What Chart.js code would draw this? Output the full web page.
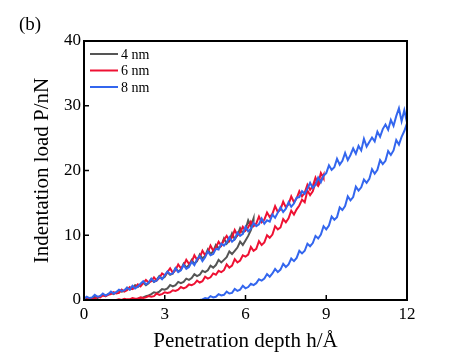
<!DOCTYPE html>
<html>
<head>
<meta charset="utf-8">
<script src="https://cdn.jsdelivr.net/npm/chart.js@4.4.1/dist/chart.umd.min.js"></script>
<style>
    html, body { margin:0; padding:0; background:#fff; }
    #wrap { width:474px; height:363px; position:relative; }
</style>
</head>
<body>
<div id="wrap"><canvas id="loadChart"></canvas></div>
<script>

// depth step between samples (Å)
const depthStep = 0.1

const seriesNames = ['4 nm', '6 nm', '8 nm']
const seriesColors = ['#555555', '#ee1133', '#3366ee']

// loading branches, starting at h = 0
const load4 = [
    0.0, 0.2, 0.1, 0.3, 0.5, 0.3, 0.6, 0.8, 0.6, 0.9,
    1.1, 0.9, 1.2, 1.5, 1.3, 1.4, 1.9, 1.6, 1.8, 2.3,
    2.0, 2.4, 2.7, 2.3, 2.6, 3.2, 2.8, 3.1, 3.7, 3.3,
    3.6, 4.3, 3.9, 4.1, 4.9, 4.4, 4.7, 5.6, 5.0, 5.4,
    6.2, 5.6, 6.0, 7.0, 6.4, 6.8, 7.8, 7.1, 7.5, 8.5,
    8.0, 8.4, 9.5, 8.7, 9.2, 10.3, 9.4, 10.0, 11.1, 10.3,
    10.9, 12.3, 11.4, 12.6
]
const load6 = [
    0.0, 0.1, 0.3, 0.2, 0.2, 0.5, 0.4, 0.7, 0.6, 0.8,
    0.9, 1.2, 1.0, 1.1, 1.6, 1.3, 1.5, 2.0, 1.7, 1.9,
    2.4, 2.1, 2.6, 3.1, 2.7, 2.9, 3.5, 3.0, 3.4, 4.1,
    3.8, 4.3, 4.9, 4.2, 4.6, 5.5, 4.9, 5.3, 6.2, 5.6,
    5.9, 6.9, 6.2, 6.6, 7.6, 6.9, 7.4, 8.4, 7.6, 8.1,
    9.0, 8.4, 9.3, 9.9, 9.1, 9.7, 10.8, 10.0, 10.4, 11.3,
    10.7, 11.2, 12.1, 11.4, 11.8, 12.9, 12.0, 12.4, 13.5, 12.8,
    13.3, 14.5, 13.6, 14.0, 15.2, 14.3, 14.8, 16.0, 15.1, 15.7,
    16.8, 16.0, 16.6, 17.8, 17.0, 17.6, 18.9, 17.9, 19.6, 18.8
]
const load8 = [
    0.2, 0.5, 0.3, 0.4, 0.8, 0.5, 0.6, 1.0, 0.7, 0.9,
    1.3, 1.0, 1.2, 1.6, 1.4, 1.5, 1.9, 1.6, 2.2, 1.8,
    2.1, 2.5, 2.9, 2.4, 2.7, 3.3, 2.8, 3.0, 3.6, 3.2,
    3.8, 4.4, 4.0, 4.1, 4.9, 4.3, 4.6, 5.4, 4.8, 5.1,
    5.9, 5.4, 6.3, 6.8, 6.0, 6.6, 7.5, 6.9, 7.1, 7.9,
    7.8, 8.7, 8.4, 8.9, 9.7, 9.0, 9.4, 10.4, 9.9, 10.2,
    11.3, 10.6, 11.0, 11.9, 11.4, 11.7, 12.6, 11.8, 12.3, 12.1,
    13.2, 12.7, 13.5, 14.3, 13.6, 14.1, 15.1, 14.4, 14.9, 15.8,
    15.9, 16.8, 16.4, 17.2, 18.1, 17.3, 17.8, 18.9, 18.2, 19.2,
    19.6, 20.8, 20.1, 20.5, 21.8, 20.9, 21.5, 22.7, 21.6, 22.4,
    23.4, 22.6, 23.8, 23.1, 24.9, 23.7, 24.4, 25.1, 24.5, 26.0,
    25.2, 26.4, 27.1, 26.3, 27.8, 26.9, 28.4, 29.6, 27.6, 29.3,
    27.4
]

// unloading branches, starting at the max depth and going back
const unload4 = [
    12.2, 10.8, 9.9, 9.2, 8.5, 9.0, 8.1, 7.6, 7.1, 7.5,
    6.6, 6.2, 5.8, 6.2, 5.4, 5.0, 5.3, 4.6, 4.3, 4.5,
    3.9, 3.7, 4.0, 3.4, 3.1, 3.3, 2.8, 2.6, 2.8, 2.3,
    2.1, 2.3, 1.8, 1.6, 1.7, 1.3, 1.1, 1.2, 0.9, 0.7,
    0.6, 0.4, 0.3, 0.2, 0.1, 0.0
]
const unload6 = [
    19.3, 18.4, 17.6, 18.1, 16.8, 16.2, 16.9, 15.1, 15.5, 14.6,
    14.0, 13.2, 13.8, 12.6, 12.0, 12.5, 11.2, 10.9, 11.4, 10.1,
    9.6, 10.0, 8.9, 8.5, 9.1, 7.9, 7.6, 8.2, 7.0, 6.7,
    6.9, 6.1, 5.8, 6.3, 5.3, 5.0, 5.5, 4.6, 4.3, 4.5,
    3.9, 4.1, 3.5, 3.3, 3.6, 2.9, 2.7, 3.0, 2.5, 2.3,
    2.4, 2.0, 1.8, 2.0, 1.6, 1.4, 1.5, 1.2, 1.1, 1.2,
    0.9, 0.8, 1.0, 0.6, 0.5, 0.6, 0.4, 0.3, 0.4, 0.2,
    0.2, 0.3, 0.1, 0.1, 0.2, 0.0, 0.1, 0.0
]
const unload8 = [
    27.3, 26.1, 25.2, 24.0, 24.7, 23.1, 22.4, 23.0, 21.5, 21.0,
    21.6, 20.1, 19.5, 20.2, 18.7, 18.1, 18.6, 17.4, 16.9, 17.5,
    15.9, 15.4, 16.0, 14.5, 13.9, 14.3, 12.8, 12.4, 12.9, 11.5,
    10.9, 11.4, 10.1, 9.5, 9.9, 8.8, 8.3, 8.7, 7.6, 7.2,
    7.6, 6.5, 6.0, 6.4, 5.5, 5.1, 5.6, 4.7, 4.3, 4.8,
    4.1, 3.6, 4.0, 3.3, 3.0, 3.2, 2.6, 2.3, 2.5, 2.0,
    1.8, 2.2, 1.6, 1.4, 1.7, 1.1, 1.0, 1.3, 0.8, 0.7,
    0.9, 0.5, 0.4, 0.6, 0.2, 0.3, 0.1, 0.0
]

const xTicks = [0, 3, 6, 9, 12]
const yTicks = [0, 10, 20, 30, 40]

function buildCurve(loading, unloading) {
    const pts = []
    for(let i = 0; i < loading.length; i++) {
        pts.push({ x: +(i * depthStep).toFixed(2), y: loading[i] })
    }
    const hMax = (loading.length - 1) * depthStep
    for(let i = 0; i < unloading.length; i++) {
        pts.push({ x: +(hMax - i * depthStep).toFixed(2), y: unloading[i] })
    }
    return pts
}

const curves = [
    buildCurve(load4, unload4),
    buildCurve(load6, unload6),
    buildCurve(load8, unload8)
]

const serif = "'Liberation Serif', 'DejaVu Serif', serif"

// frame, inward ticks, legend and panel tag
const decorations = {
    id:'decorations',
    afterDraw(chart) {
        const ctx = chart.ctx
        const area = chart.chartArea
        const xs = chart.scales.x
        const ys = chart.scales.y

        ctx.save()
        ctx.strokeStyle = '#000'
        ctx.lineWidth = 2
        ctx.strokeRect(area.left, area.top, area.right - area.left, area.bottom - area.top)

        ctx.lineWidth = 1.5
        ctx.beginPath()
        yTicks.slice(1, -1).forEach(v => {
            const py = ys.getPixelForValue(v)
            ctx.moveTo(area.left, py)
            ctx.lineTo(area.left + 5, py)
        })
        xTicks.slice(1, -1).forEach(v => {
            const px = xs.getPixelForValue(v)
            ctx.moveTo(px, area.bottom)
            ctx.lineTo(px, area.bottom - 5)
        })
        ctx.stroke()

        // legend
        ctx.font = '14px ' + serif
        ctx.textBaseline = 'middle'
        ctx.textAlign = 'left'
        chart.data.datasets.forEach((ds, i) => {
            const y = 54 + i * 16.5
            ctx.strokeStyle = ds.borderColor
            ctx.lineWidth = 2
            ctx.beginPath()
            ctx.moveTo(90, y)
            ctx.lineTo(118, y)
            ctx.stroke()
            ctx.fillStyle = '#000'
            ctx.fillText(ds.label, 121, y + 1)
        })

        ctx.font = '19px ' + serif
        ctx.fillText('(b)', 19, 25)
        ctx.restore()
    }
}

new Chart(document.getElementById('loadChart'), {
    type:'line',
    data:{
        datasets: curves.map((pts, i) => ({
            label: seriesNames[i],
            data: pts,
            borderColor: seriesColors[i],
            borderWidth: 2,
            pointRadius: 0,
            tension: 0,
            fill: false,
            order: 3 - i
        }))
    },
    options:{
        responsive:true,
        maintainAspectRatio:false,
        animation:false,
        layout:{ padding:{ left:0, top:41, right:67, bottom:0 } },
        plugins:{
            legend:{ display:false },
            tooltip:{ enabled:false }
        },
        scales:{
            x:{
                type:'linear',
                min:0,
                max:12,
                afterBuildTicks: s => { s.ticks = xTicks.map(v => ({ value:v })) },
                afterFit: s => { s.height = 63 },
                grid:{ display:false, drawTicks:false },
                border:{ display:false },
                ticks:{ color:'#000', padding:4, font:{ family:serif, size:17 } },
                title:{
                    display:true,
                    text:'Penetration depth h/Å',
                    color:'#000',
                    padding:{ top:0, bottom:9 },
                    font:{ family:serif, size:21 }
                }
            },
            y:{
                min:0,
                max:40,
                afterBuildTicks: s => { s.ticks = yTicks.map(v => ({ value:v })) },
                afterFit: s => { s.width = 84 },
                grid:{ display:false, drawTicks:false },
                border:{ display:false },
                ticks:{ color:'#000', padding:3, font:{ family:serif, size:17 } },
                title:{
                    display:true,
                    text:'Indentation load P/nN',
                    color:'#000',
                    padding:{ top:30, bottom:0 },
                    font:{ family:serif, size:21 }
                }
            }
        }
    },
    plugins:[decorations]
})
</script>
</body>
</html>
